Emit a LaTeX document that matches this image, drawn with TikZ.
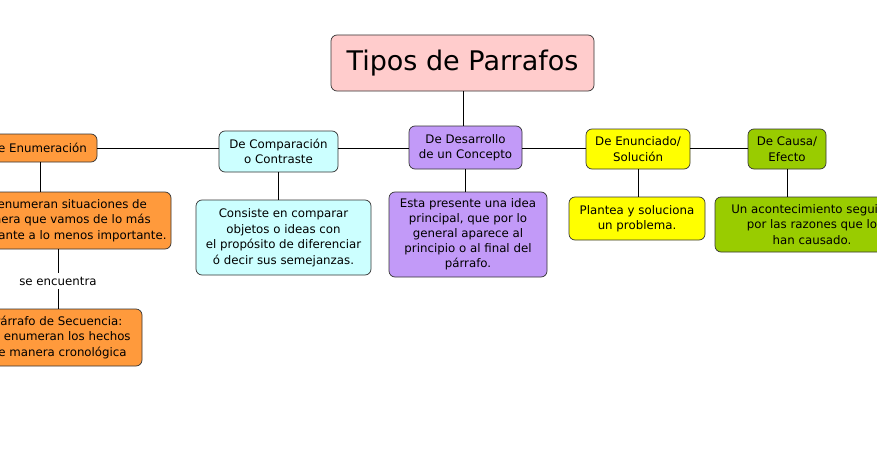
\documentclass[tikz,border=0pt]{standalone}
\usepackage{fontspec}
\setmainfont{DejaVu Sans}
\begin{document}
\begin{tikzpicture}[x=1pt,y=-1pt,
  box/.style={draw=black!80,rounded corners=6pt,line width=0.7pt,align=center,font=\fontsize{11.8}{15.5}\selectfont,inner sep=0pt},
  ln/.style={draw=black,line width=0.7pt}]
\useasboundingbox (0,0) rectangle (877,460);
\clip (0,0) rectangle (877,460);
\definecolor{pk}{HTML}{FFCCCC}\definecolor{or}{HTML}{FF9A3C}\definecolor{cy}{HTML}{CCFFFF}
\definecolor{pu}{HTML}{C29AF8}\definecolor{ye}{HTML}{FFFF00}\definecolor{gr}{HTML}{99CC00}
\node[box,fill=pk,minimum width=263,minimum height=56,font=\fontsize{27}{30}\selectfont] (t) at (462.5,63) {Tipos de Parrafos};
\node[box,fill=or,minimum width=118,minimum height=28] (a) at (38,148) {De Enumeración};
\node[box,fill=cy,minimum width=119,minimum height=41] (b) at (278.5,151.5) {De Comparación\\o Contraste};
\node[box,fill=pu,minimum width=113,minimum height=43] (c) at (465.5,147.5) {De Desarrollo\\de un Concepto};
\node[box,fill=ye,minimum width=104,minimum height=40] (d) at (638,149) {De Enunciado/\\Solución};
\node[box,fill=gr,minimum width=78,minimum height=40] (e) at (787,149) {De Causa/\\Efecto};
\node[box,fill=or,minimum width=216,minimum height=57] (a2) at (63,220.5) {Se enumeran situaciones de\\manera que vamos de lo más\\importante a lo menos importante.};
\node[box,fill=cy,minimum width=175,minimum height=75] (b2) at (283.5,237.5) {Consiste en comparar\\objetos o ideas con\\el propósito de diferenciar\\ó decir sus semejanzas.};
\node[box,fill=pu,minimum width=158,minimum height=85,font=\fontsize{11.8}{15}\selectfont] (c2) at (468,234.5) {Esta presente una idea\\principal, que por lo\\general aparece al\\principio o al final del\\párrafo.};
\node[box,fill=ye,minimum width=136,minimum height=43] (d2) at (637,218.5) {Plantea y soluciona\\un problema.};
\node[box,fill=gr,minimum width=194,minimum height=55] (e2) at (812,224.5) {Un acontecimiento seguido\\por las razones que lo\\han causado.};
\node[box,fill=or,minimum width=168,minimum height=57] (f) at (58,337.5) {Párrafo de Secuencia:\\Se enumeran los hechos\\De manera cronológica};
\node[font=\fontsize{11.8}{12}\selectfont] (l) at (58,281) {se encuentra};
\coordinate (tc) at (463,0);
\draw[ln] (t.south -| tc) -- (c.north -| tc);
\coordinate (h) at (0,148);
\draw[ln] (a.east |- h) -- (b.west |- h) (b.east |- h) -- (c.west |- h) (c.east |- h) -- (d.west |- h) (d.east |- h) -- (e.west |- h);
\draw[ln] (a.south -| 40,0) -- (a2.north -| 40,0);
\draw[ln] (b.south) -- (b2.north -| b.south);
\draw[ln] (c.south) -- (c2.north -| c.south);
\draw[ln] (d.south) -- (d2.north -| d.south);
\draw[ln] (e.south) -- (e2.north -| e.south);
\draw[ln] (a2.south -| l.north) -- (l.north);
\draw[ln] (l.south) -- (f.north -| l.south);
\end{tikzpicture}
\end{document}
